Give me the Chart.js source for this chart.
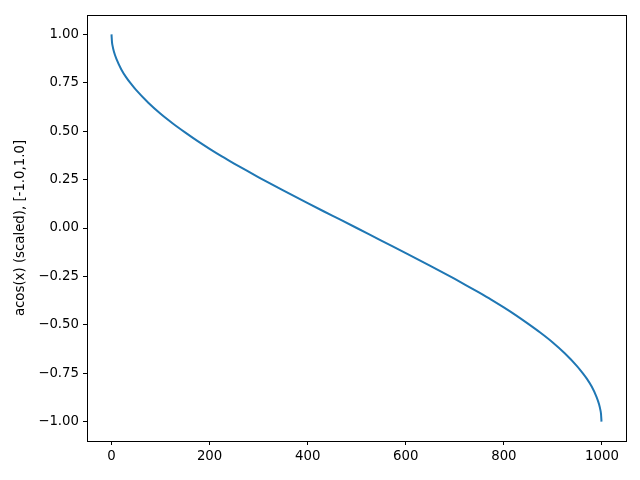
<!DOCTYPE html>
<html>
<head>
<meta charset="utf-8">
<script src="https://cdn.jsdelivr.net/npm/chart.js@4/dist/chart.umd.min.js"></script>
<style>
  html, body { margin: 0; padding: 0; background: #fff; }
  #wrap { width: 640px; height: 480px; }
</style>
</head>
<body>
<div id="wrap"><canvas id="c" width="640" height="480"></canvas></div>
<script>
const sampleIndex = [0, 1, 2, 5, 10, 20, 30, 40, 50, 75, 100, 125, 150, 175, 200, 225, 250, 275, 300, 350, 400, 450, 500,
  549, 599, 649, 699, 724, 749, 774, 799, 824, 849, 874, 899, 924, 949, 959, 969, 979, 989, 994, 997, 998, 999];
const sampleValue = [1.000, 0.960, 0.943, 0.910, 0.873, 0.819, 0.778, 0.744, 0.713, 0.647, 0.590, 0.540, 0.494, 0.450, 0.409, 0.370, 0.333, 0.297, 0.262, 0.194, 0.128, 0.064, 0.000,
  -0.064, -0.128, -0.194, -0.262, -0.297, -0.333, -0.370, -0.409, -0.450, -0.494, -0.540, -0.590, -0.647, -0.713, -0.744, -0.778, -0.819, -0.873, -0.910, -0.943, -0.960, -1.000];
const xTicks = [0, 200, 400, 600, 800, 1000];
const yTicks = [-1.00, -0.75, -0.50, -0.25, 0.00, 0.25, 0.50, 0.75, 1.00];
const yLabel = 'acos(x) (scaled), [-1.0,1.0]';

const points = sampleIndex.map((x, i) => ({ x: x, y: sampleValue[i] }));

const frame = {
  id: 'frame',
  afterDraw(chart) {
    const a = chart.chartArea, ctx = chart.ctx;
    ctx.save();
    ctx.strokeStyle = '#000';
    ctx.lineWidth = 1;
    ctx.strokeRect(Math.round(a.left) + 0.5, Math.round(a.top) + 0.5, Math.round(a.right - a.left), Math.round(a.bottom - a.top));
    ctx.restore();
  }
};

const fmt = v => (v < 0 ? '\u2212' : '') + Math.abs(v).toFixed(2);
const font = { family: 'DejaVu Sans', size: 13.3 };

new Chart(document.getElementById('c'), {
  type: 'line',
  data: {
    datasets: [{
      data: points,
      borderColor: '#1f77b4',
      borderWidth: 2,
      pointRadius: 0,
      fill: false,
      cubicInterpolationMode: 'monotone'
    }]
  },
  options: {
    responsive: false,
    animation: false,
    devicePixelRatio: 1,
    layout: { padding: { left: 0, top: 15, right: 14, bottom: 0 } },
    plugins: { legend: { display: false }, tooltip: { enabled: false } },
    scales: {
      x: {
        type: 'linear',
        min: -49.95,
        max: 1048.95,
        afterBuildTicks: s => { s.ticks = xTicks.map(v => ({ value: v })); },
        afterFit: s => { s.height = 39; },
        grid: { drawOnChartArea: false, drawTicks: true, tickLength: 4, tickColor: '#000', color: '#000' },
        border: { display: true, color: '#000' },
        ticks: { color: '#000', font: font, padding: 4, maxRotation: 0, autoSkip: false, callback: v => String(v) }
      },
      y: {
        type: 'linear',
        min: -1.1,
        max: 1.1,
        afterBuildTicks: s => { s.ticks = yTicks.map(v => ({ value: v })); },
        afterFit: s => { s.width = 87; },
        grid: { drawOnChartArea: false, drawTicks: true, tickLength: 4, tickColor: '#000', color: '#000' },
        border: { display: true, color: '#000' },
        ticks: { color: '#000', font: font, padding: 4, autoSkip: false, callback: v => fmt(v) },
        title: { display: true, text: yLabel, color: '#000', font: font, padding: { top: 13, bottom: 0 } }
      }
    }
  },
  plugins: [frame]
});
</script>
</body>
</html>
